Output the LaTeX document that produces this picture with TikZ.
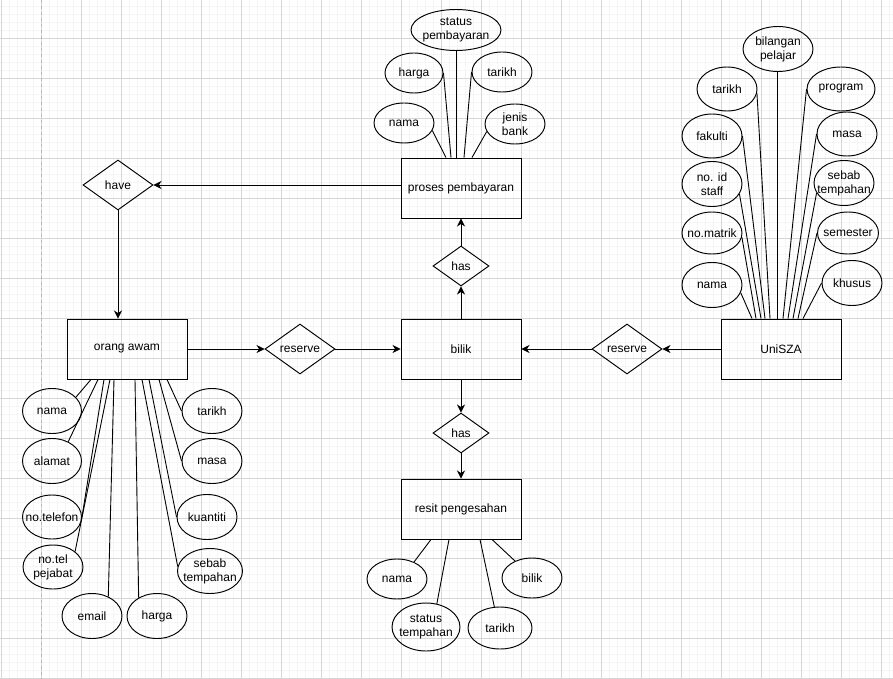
\documentclass[tikz,border=0pt]{standalone}
\usepackage{fontspec}
\setmainfont{Liberation Sans}
\usetikzlibrary{arrows.meta,shapes.geometric}

\begin{document}
\begin{tikzpicture}
  [x=1pt, y=-1pt,
   font=\fontsize{12}{14}\selectfont,
   entity/.style={draw, line width=0.95pt, minimum width=120pt, minimum height=60pt, inner sep=0pt},
   attr/.style={draw, ellipse, line width=0.95pt, minimum width=60pt, minimum height=42pt,
     inner xsep=-25pt, inner ysep=-12pt, align=center},
   rel/.style={draw, diamond, line width=0.95pt, minimum width=70pt, minimum height=50pt, inner sep=-20pt},
   link/.style={line width=0.9pt},
   arrow/.style={line width=0.9pt, -{Stealth[length=8pt,width=8pt,inset=2.5pt]}}]

  \useasboundingbox (0,0) rectangle (893,679);
  \fill [white] (0,0) rectangle (893,679);

  \draw
  [black!4, line width=0.6pt, step=8pt, shift={(1.7pt,-6pt)}]
  (-16pt,-696pt) grid (904pt,16pt);

  \draw
  [black!16, line width=0.7pt, step=40pt, shift={(1.7pt,-38pt)}]
  (-40pt,-720pt) grid (920pt,40pt);

  \draw
  [black!28, line width=0.9pt, dash pattern=on 3pt off 3pt]
  (41,0) -- (41,679);

  \node
  [entity]
  (proses) at (461,188) {proses pembayaran};

  \node
  [entity]
  (bilik) at (461,349) {bilik};

  \node
  [entity]
  (orang) at (127,349) {orang awam};

  \node
  [entity]
  (unisza) at (781,349) {UniSZA};

  \node
  [entity]
  (resit) at (461,509) {resit pengesahan};

  \node
  [rel]
  (have) at (118,185) {have};

  \node
  [rel]
  (reserveA) at (300,349) {reserve};

  \node
  [rel]
  (reserveB) at (627,349) {reserve};

  \node
  [rel, minimum width=56pt, minimum height=40pt]
  (hasA) at (461,266) {has};

  \node
  [rel, minimum width=56pt, minimum height=40pt]
  (hasB) at (461,433) {has};

  \node
  [attr, minimum height=40pt]
  (p-nama) at (404,123) {nama};

  \node
  [attr, minimum width=58pt, minimum height=40pt]
  (p-harga) at (414,73) {harga};

  \node
  [attr, minimum width=90pt, minimum height=41pt]
  (p-status) at (456,30) {status\\pembayaran};

  \node
  [attr, minimum height=40pt]
  (p-tarikh) at (502,72) {tarikh};

  \node
  [attr, minimum height=40pt]
  (p-jenis) at (515,124) {jenis\\bank};

  \node
  [attr, minimum width=70pt, minimum height=45pt]
  (u-bilangan) at (778,49) {bilangan\\pelajar};

  \node
  [attr, minimum height=44pt]
  (u-tarikh) at (727,89) {tarikh};

  \node
  [attr, minimum width=68pt, minimum height=44pt]
  (u-program) at (841,89) {program};

  \node
  [attr, minimum height=44pt]
  (u-fakulti) at (712,136) {fakulti};

  \node
  [attr, minimum height=44pt]
  (u-masa) at (847,134) {masa};

  \node
  [attr, minimum height=45pt]
  (u-staff) at (712,184) {no. id\\staff};

  \node
  [attr, minimum height=45pt]
  (u-sebab) at (844,183) {sebab\\tempahan};

  \node
  [attr]
  (u-matrik) at (712,233) {no.matrik};

  \node
  [attr, minimum width=61pt]
  (u-semester) at (848,233) {semester};

  \node
  [attr, minimum height=45pt]
  (u-nama) at (712,285) {nama};

  \node
  [attr, minimum height=45pt]
  (u-khusus) at (852,283) {khusus};

  \node
  [attr, minimum width=59pt, minimum height=45pt]
  (o-nama) at (52,411) {nama};

  \node
  [attr, minimum width=59pt, minimum height=45pt]
  (o-alamat) at (52,461) {alamat};

  \node
  [attr, minimum width=59pt, minimum height=44pt]
  (o-telefon) at (52,517) {no.telefon};

  \node
  [attr, minimum height=44pt]
  (o-pejabat) at (53,567) {no.tel\\pejabat};

  \node
  [attr, minimum height=45pt]
  (o-email) at (92,616) {email};

  \node
  [attr, minimum height=45pt]
  (o-harga) at (157,616) {harga};

  \node
  [attr, minimum height=45pt]
  (o-tarikh) at (212,411) {tarikh};

  \node
  [attr, minimum height=45pt]
  (o-masa) at (212,461) {masa};

  \node
  [attr, minimum height=45pt]
  (o-kuantiti) at (207,517) {kuantiti};

  \node
  [attr, minimum width=65pt, minimum height=45pt]
  (o-sebab) at (210,571) {sebab\\tempahan};

  \node
  [attr, minimum height=40pt]
  (r-nama) at (397,579) {nama};

  \node
  [attr, minimum width=68pt, minimum height=48pt]
  (r-status) at (426,627) {status\\tempahan};

  \node
  [attr, minimum width=64pt, minimum height=42pt]
  (r-tarikh) at (500,628) {tarikh};

  \node
  [attr, minimum height=40pt]
  (r-bilik) at (532,578) {bilik};

  \draw
  [arrow]
  (have.east -| proses.west) -- (have.east);

  \draw
  [arrow]
  (have.south) -- (have.south |- orang.north);

  \draw
  [arrow]
  (orang.east) -- (reserveA.west);

  \draw
  [arrow]
  (reserveA.east) -- (bilik.west);

  \draw
  [arrow]
  (unisza.west) -- (reserveB.east);

  \draw
  [arrow]
  (reserveB.west) -- (bilik.east);

  \draw
  [arrow]
  (bilik.north) -- (hasA.south);

  \draw
  [arrow]
  (hasA.north) -- (proses.south);

  \draw
  [arrow]
  (bilik.south) -- (hasB.north);

  \draw
  [arrow]
  (hasB.south) -- (resit.north);

  \draw
  [link]
  (p-nama.-15) -- ([xshift=-15pt]proses.north);

  \draw
  [link]
  (p-harga.east) -- ([xshift=-10pt]proses.north);

  \draw
  [link]
  (p-status.south) -- (p-status.south |- proses.north);

  \draw
  [link]
  (p-tarikh.west) -- ([xshift=3pt]proses.north);

  \draw
  [link]
  (p-jenis.195) -- ([xshift=11pt]proses.north);

  \draw
  [link]
  (u-nama.-15) -- ([xshift=-29pt]unisza.north);

  \draw
  [link]
  (u-matrik.-8) -- ([xshift=-25pt]unisza.north);

  \draw
  [link]
  (u-staff.-20) -- ([xshift=-20pt]unisza.north);

  \draw
  [link]
  (u-fakulti.east) -- ([xshift=-16pt]unisza.north);

  \draw
  [link]
  (u-tarikh.-8) -- ([xshift=-11pt]unisza.north);

  \draw
  [link]
  (u-bilangan.south -| unisza.north) ++(-4pt,0) -- ([xshift=-4pt]unisza.north);

  \draw
  [link]
  (u-program.west) -- ([xshift=2pt]unisza.north);

  \draw
  [link]
  (u-masa.west) -- ([xshift=7pt]unisza.north);

  \draw
  [link]
  (u-sebab.200) -- ([xshift=12pt]unisza.north);

  \draw
  [link]
  (u-semester.west) -- ([xshift=17pt]unisza.north);

  \draw
  [link]
  (u-khusus.west) -- ([xshift=22pt]unisza.north);

  \draw
  [link]
  (o-nama.30) -- ([xshift=-36pt]orang.south);

  \draw
  [link]
  (o-alamat.50) -- ([xshift=-29pt]orang.south);

  \draw
  [link]
  (o-telefon.east) -- ([xshift=-23pt]orang.south);

  \draw
  [link]
  (o-pejabat.35) -- ([xshift=-17pt]orang.south);

  \draw
  [link]
  (o-email.50) -- ([xshift=-13pt]orang.south);

  \draw
  [link]
  (o-harga.135) -- ([xshift=8pt]orang.south);

  \draw
  [link]
  (o-sebab.172) -- ([xshift=15pt]orang.south);

  \draw
  [link]
  (o-kuantiti.west) -- ([xshift=22pt]orang.south);

  \draw
  [link]
  (o-masa.west) -- ([xshift=32pt]orang.south);

  \draw
  [link]
  (o-tarikh.west) -- ([xshift=40pt]orang.south);

  \draw
  [link]
  (r-nama.45) -- ([xshift=-30pt]resit.south);

  \draw
  [link]
  (r-status.65) -- ([xshift=-12pt]resit.south);

  \draw
  [link]
  (r-tarikh.105) -- ([xshift=19pt]resit.south);

  \draw
  [link]
  (r-bilik.135) -- ([xshift=31pt]resit.south);
\end{tikzpicture}
\end{document}
